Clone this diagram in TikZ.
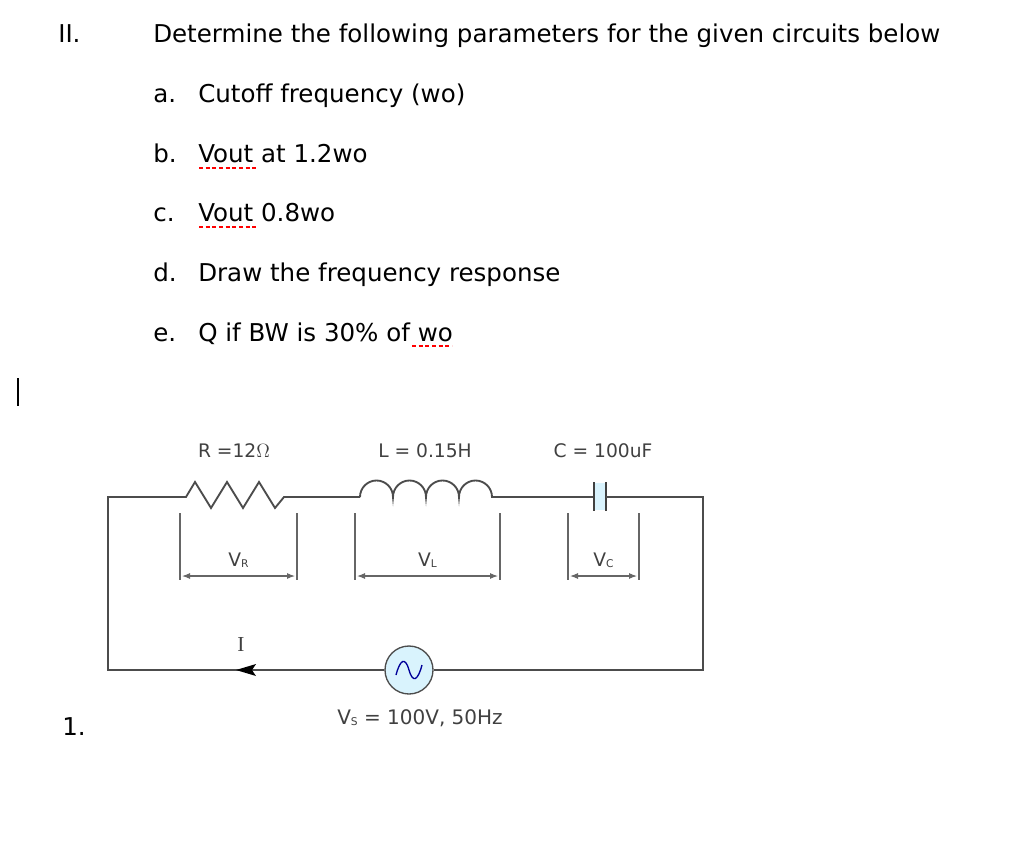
\documentclass[tikz,border=0pt]{standalone}
\usepackage{fontspec}
\setmainfont{DejaVu Sans}
\newfontfamily\cfont{DejaVu Sans}
\newfontfamily\sfont{Liberation Serif}
\usetikzlibrary{arrows.meta}
\begin{document}
\begin{tikzpicture}[x=0.75pt,y=-0.75pt,
  txt/.style={anchor=base west,inner sep=0,font=\fontsize{18.4}{22}\selectfont},
  lbl/.style={inner sep=0,font=\cfont\fontsize{14}{16}\selectfont,text=black!75},
  wire/.style={draw=black!70,line width=1.4pt},
  meas/.style={draw=black!60,line width=0.8pt},
  spell/.style={draw=red,line width=1.6pt,dash pattern=on 3pt off 2pt}]
\useasboundingbox (0,0) rectangle (1034,852);
\node[txt] (t0) at (58,43) {II.};
\node[txt] (t1) at (153,43) {Determine the following parameters for the given circuits below};
\node[txt] (a) at (153,103) {a.};
\node[txt] (a2) at (198,103) {Cutoff frequency (wo)};
\node[txt] (b) at (153,163) {b.};
\node[txt] (b2) at (198,163) {Vout at 1.2wo};
\node[txt] (c) at (153,222) {c.};
\node[txt] (c2) at (198,222) {Vout 0.8wo};
\node[txt] (d) at (153,281) {d.};
\node[txt] (d2) at (198,281) {Draw the frequency response};
\node[txt] (e) at (153,341) {e.};
\node[txt] (e2) at (198,341) {Q if BW is 30\% of wo};
\node[txt] (one) at (62,735) {1.};
\draw[spell] (199,168) -- (256,168);
\draw[spell] (199,227) -- (256,227);
\draw[spell] (412,346) -- (452,346);
\draw[black,line width=1pt] (18,378) -- (18,406);
% labels
\node[lbl] (lr) at (234,451) {R =12$\Omega$};
\node[lbl] (ll) at (425,451) {L = 0.15H};
\node[lbl] (lc) at (603,451) {C = 100uF};
% circuit
\coordinate (tl) at (108,497);
\coordinate (tr) at (703,497);
\coordinate (bl) at (108,670);
\coordinate (br) at (703,670);
\node[circle,draw=black!70,line width=1pt,fill=cyan!15,minimum size=36pt,inner sep=0] (src) at (409,670) {};
\draw[blue!60!black,line width=1pt] (396,675) .. controls (400,660) and (405,656) .. (409,670) .. controls (413,684) and (418,680) .. (422,665);
\draw[wire] (src.west) -- (bl) -- (tl) -- (186,497) -- (195,482) -- (211,508) -- (227,482) -- (243,508) -- (259,482) -- (275,508) -- (284,497) -- (360,497);
\draw[wire] (360,497) arc[start angle=180,end angle=360,radius=16.5]
  arc[start angle=180,end angle=360,radius=16.5]
  arc[start angle=180,end angle=360,radius=16.5]
  arc[start angle=180,end angle=360,radius=16.5] -- (594,497);
\fill[cyan!15] (594,483) rectangle (606,510);
\draw[black!75,line width=2.2pt] (594,482) -- (594,511) (606,482) -- (606,511);
\draw[wire] (606,497) -- (tr) -- (br) -- (src.east);
\fill[black] (236,670) -- (256,664) -- (252,670) -- (256,676) -- cycle;
\node[inner sep=0,font=\sfont\fontsize{16}{18}\selectfont,text=black!75] (cur) at (241,645) {I};
% measurement
\foreach \xa/\xb/\sub in {180/297/R,355/500/L,568/639/C}{
  \draw[meas] (\xa,513) -- (\xa,580) (\xb,513) -- (\xb,580);
  \draw[meas,{Latex[length=6pt]}-{Latex[length=6pt]}] (\xa+2,576) -- (\xb-2,576);
  \node[lbl] at ({(\xa+\xb)/2},560) {V\raisebox{-1pt}{\fontsize{8}{9}\selectfont\sub}};
}
\node[lbl,font=\cfont\fontsize{15}{17}\selectfont] (vs) at (420,718) {V\raisebox{-1pt}{\fontsize{8}{9}\selectfont S} = 100V, 50Hz};
\end{tikzpicture}
\end{document}
